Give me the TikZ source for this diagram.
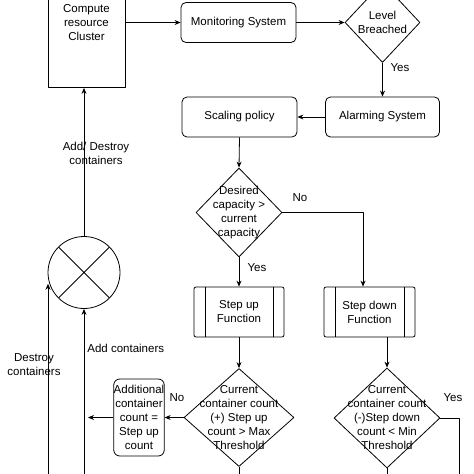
\documentclass[tikz,border=0pt]{standalone}
\usepackage{fontspec}
\setmainfont{Liberation Sans}
\usetikzlibrary{shapes.geometric,arrows.meta}
\begin{document}
\begin{tikzpicture}[x=1pt,y=-1pt,line join=round,line width=0.8pt,>={Stealth[length=6pt,width=5pt]},
	every node/.style={font=\fontsize{11.5}{14}\selectfont,align=center,inner sep=0pt},
	box/.style={draw,rounded corners=5pt,minimum width=115pt,minimum height=40pt},
	proc/.style={draw,rounded corners=2pt,minimum width=90pt,minimum height=50pt,
		path picture={\draw ([xshift=11pt]path picture bounding box.north west)--([xshift=11pt]path picture bounding box.south west)
			([xshift=-11pt]path picture bounding box.north east)--([xshift=-11pt]path picture bounding box.south east);}},
	dec/.style 2 args={draw,diamond,minimum width=#1,minimum height=#2},
	mixer/.style={draw,circle,minimum size=72pt,
		path picture={\draw (path picture bounding box.north west)--(path picture bounding box.south east)
			(path picture bounding box.north east)--(path picture bounding box.south west);}}]
	%Khung hình
	\path[clip,use as bounding box] (0,0) rectangle (474,474);
	%Các khối
	\node[draw,minimum width=77pt,minimum height=130pt] (cluster) at (86.5,22.5) {Compute\\resource\\Cluster};
	\node[box] (monitor) at (238.5,22.5) {Monitoring System};
	\node[dec={75pt}{80pt}] (level) at (382.5,22.5) {};
	\node (levelT) at (level) {Level\\Breached};
	\node[box,minimum width=114pt] (alarm) at (382.5,117) {Alarming System};
	\node[box] (scaling) at (239.5,117) {Scaling policy};
	\node[dec={86pt}{89pt}] (capacity) at (239,212.5) {};
	\node (capacityT) at (capacity) {Desired\\capacity >\\current\\capacity};
	\node[proc] (stepup) at (239,312) {Step up\\Function};
	\node[proc,minimum width=91pt] (stepdown) at (369.5,312) {Step down\\Function};
	\node[dec={110pt}{98pt}] (upcheck) at (239,417.5) {};
	\node (upcheckT) at (upcheck) {Current\\container count\\(+) Step up\\count > Max\\Threshold};
	\node[dec={106pt}{100pt}] (downcheck) at (387,418) {};
	\node (downcheckT) at (downcheck) {Current\\container count\\(-)Step down\\count < Min\\Threshold};
	\node[draw,rounded corners=6pt,minimum width=48pt,minimum height=77pt] (extra) at (139,417.5) {Additional\\container\\count =\\Step up\\count};
	\node[mixer] (mix) at (84,272.5) {};
	%Các điểm mút
	\coordinate (addtip) at (88,417.5);
	\coordinate (addbot) at (84,480);
	\coordinate (destbot) at (48,480);
	\coordinate (upbot) at (239,480);
	\coordinate (downbot) at (387,480);
	\coordinate (yesbot) at (459,480);
	%Các mũi tên
	\draw[->] (cluster.east) -- (monitor.west);
	\draw[->] (monitor.east) -- (level.west);
	\draw[->] (level.south) -- (alarm.north);
	\draw[->] (alarm.west) -- (scaling.east);
	\draw[->] (scaling.south) -- (capacity.north);
	\draw[->] (capacity.south) -- (stepup.north);
	\draw[->] (capacity.east) -| ([xshift=-6.5pt]stepdown.north);
	\draw[->] (stepup.south) -- (upcheck.north);
	\draw[->] (stepdown.south -| downcheck.north) -- (downcheck.north);
	\draw[->] (upcheck.west) -- (extra.east);
	\draw[->] (extra.west) -- (addtip);
	\draw[->] (addbot) -- (mix.south);
	\draw[->] (destbot) -- (destbot |- mix.198);
	\draw[->] (mix.north) -- (mix.north |- cluster.south);
	\draw (upcheck.south) -- (upbot);
	\draw (downcheck.south) -- (downbot);
	\draw (downcheck.east) -| (yesbot);
	%Các nhãn
	\node (yesA) at (400,68) {Yes};
	\node (yesB) at (257,268) {Yes};
	\node (noA) at (300,198) {No};
	\node (noB) at (177,398) {No};
	\node (yesC) at (453,398) {Yes};
	\node[anchor=west] (addL) at (87,348) {Add containers};
	\node (destL) at (34,365) {Destroy\\containers};
	\node (mixL) at (96,153) {Add/ Destroy\\containers};
\end{tikzpicture}
\end{document}
